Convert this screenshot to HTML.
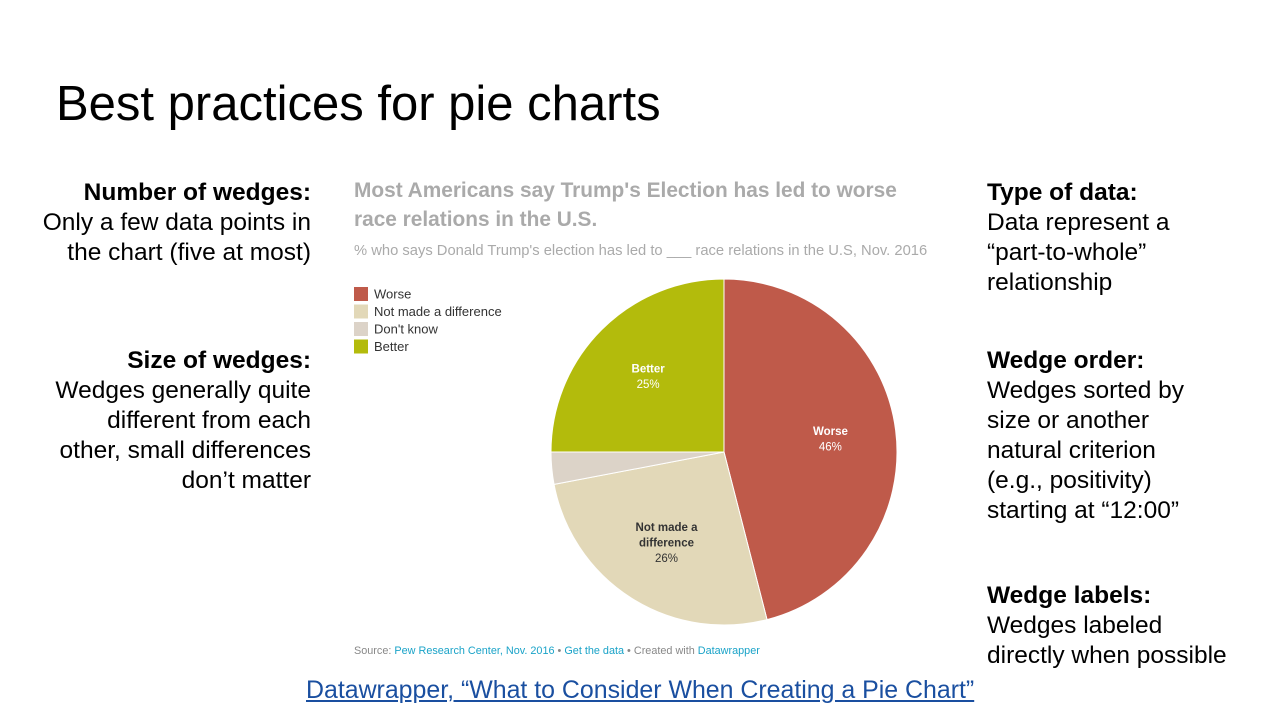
<!DOCTYPE html>
<html><head><meta charset="utf-8"><style>
body{margin:0;width:1280px;height:720px;background:#fff;font-family:"Liberation Sans",sans-serif;position:relative;overflow:hidden}
.a{position:absolute}
.side{font-size:24.5px;line-height:30px;color:#000;white-space:nowrap}
.side b{font-weight:bold}
</style></head><body>
<div class="a" style="left:56px;top:76px;font-size:49px">Best practices for pie charts</div>
<div class="a side" style="right:969px;top:178px;text-align:right"><b>Number of wedges:</b><br>Only a few data points in<br>the chart (five at most)</div>
<div class="a side" style="right:969px;top:346px;text-align:right"><b>Size of wedges:</b><br>Wedges generally quite<br>different from each<br>other, small differences<br>don’t matter</div>
<div class="a side" style="left:987px;top:178px"><b>Type of data:</b><br>Data represent a<br>“part-to-whole”<br>relationship</div>
<div class="a side" style="left:987px;top:346px"><b>Wedge order:</b><br>Wedges sorted by<br>size or another<br>natural criterion<br>(e.g., positivity)<br>starting at “12:00”</div>
<div class="a side" style="left:987px;top:581px"><b>Wedge labels:</b><br>Wedges labeled<br>directly when possible</div>
<div class="a" style="left:354px;top:176px;font-size:20.85px;line-height:29px;font-weight:bold;color:#aaa;white-space:nowrap">Most Americans say Trump's Election has led to worse<br>race relations in the U.S.</div>
<div class="a" style="left:354px;top:243px;font-size:14.75px;color:#aaa;white-space:nowrap">% who says Donald Trump's election has led to ___ race relations in the U.S, Nov. 2016</div>
<div class="a" style="left:354px;top:645px;font-size:10.85px;color:#888;white-space:nowrap">Source: <span style="color:#1aa3c8">Pew Research Center, Nov. 2016</span> • <span style="color:#1aa3c8">Get the data</span> • Created with <span style="color:#1aa3c8">Datawrapper</span></div>
<a class="a" style="left:306px;top:676px;font-size:24.9px;color:#1a4fa0;text-decoration:underline;white-space:nowrap">Datawrapper, “What to Consider When Creating a Pie Chart”</a>
<svg class="a" id="pie" style="left:0;top:0" width="1280" height="720"></svg>
<script>
const categories=["Worse","Not made a difference","Don't know","Better"];
const values=[46,26,3,25];
const colors=["#bf5a4a","#e2d8b8","#dcd3c8","#b3bb0c"];
const labelLines=[["Worse","46%"],["Not made a","difference","26%"],null,["Better","25%"]];
const svg=document.getElementById('pie');const NS="http://www.w3.org/2000/svg";
const cx=724,cy=452,r=173;
const total=values.reduce((a,b)=>a+b,0);
function pt(f,rr){const a=f*2*Math.PI;return [cx+rr*Math.sin(a),cy-rr*Math.cos(a)];}
let acc=0;
values.forEach((v,i)=>{
 const f0=acc/total,f1=(acc+v)/total;acc+=v;
 const p0=pt(f0,r),p1=pt(f1,r);
 const p=document.createElementNS(NS,'path');
 p.setAttribute('d',`M${cx},${cy}L${p0[0]},${p0[1]}A${r},${r} 0 ${f1-f0>0.5?1:0} 1 ${p1[0]},${p1[1]}Z`);
 p.setAttribute('fill',colors[i]);p.setAttribute('stroke','#fff');p.setAttribute('stroke-width','1');
 
 
 svg.appendChild(p);
 if(labelLines[i]){
  const c=pt((f0+f1)/2,r*0.62);const L=labelLines[i];
  L.forEach((s,j)=>{const t=document.createElementNS(NS,'text');
   t.setAttribute('x',c[0]);t.setAttribute('y',c[1]+(j-(L.length-1)/2)*15.5+4);
   t.setAttribute('text-anchor','middle');t.setAttribute('font-size','11.5');
   t.setAttribute('font-weight',j<L.length-1?'bold':'normal');
   t.setAttribute('fill',i==1?'#333':'#fff');t.textContent=s;
   
   
   svg.appendChild(t);});
 }
 const ly=287+i*17.5;
 const sq=document.createElementNS(NS,'rect');
 sq.setAttribute('x',354);sq.setAttribute('y',ly);sq.setAttribute('width',14);sq.setAttribute('height',14);sq.setAttribute('fill',colors[i]);
 
 
 svg.appendChild(sq);
 const lt=document.createElementNS(NS,'text');
 lt.setAttribute('x',374);lt.setAttribute('y',ly+11.5);lt.setAttribute('font-size','13');lt.setAttribute('fill','#333');lt.textContent=categories[i];
 
 
 svg.appendChild(lt);
});
</script>
</body></html>
